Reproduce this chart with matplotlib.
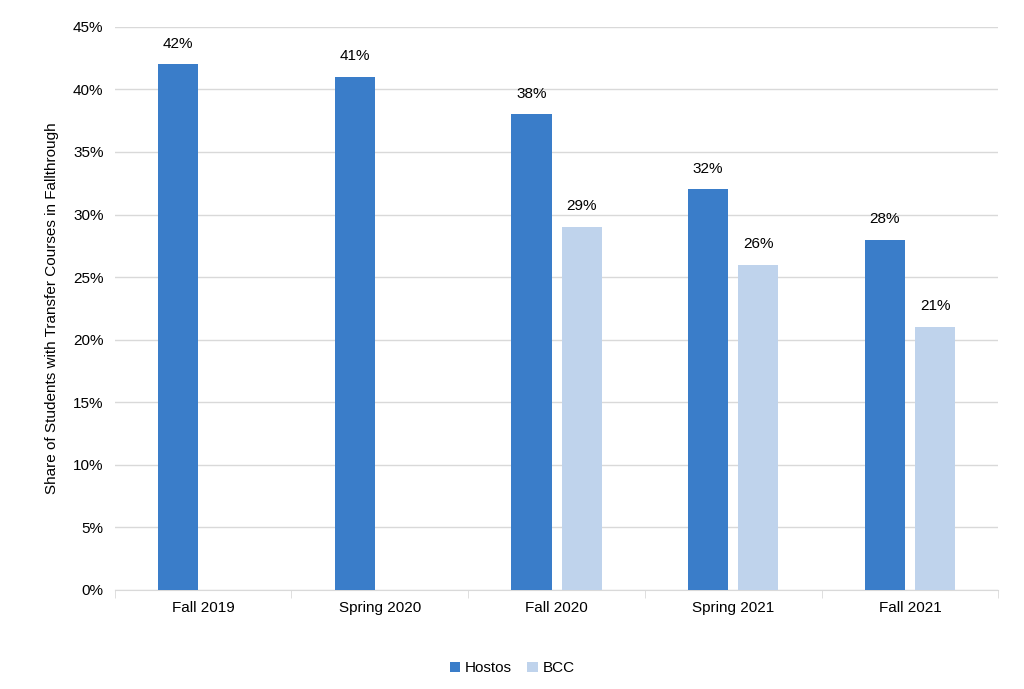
import matplotlib.pyplot as plt
import numpy as np

plt.rcParams['font.family'] = 'Liberation Sans'

terms = ['Fall 2019', 'Spring 2020', 'Fall 2020', 'Spring 2021', 'Fall 2021']
hostos = [42, 41, 38, 32, 28]
bcc = [None, None, 29, 26, 21]

fig = plt.figure(figsize=(10.24, 6.89), dpi=100)
ax = fig.add_axes([0.112, 0.144, 0.863, 0.817])

x = np.arange(len(terms))
w = 0.227
off = 0.142
for i in range(len(terms)):
    ax.bar(x[i] - off, hostos[i], w, color='#3A7DC9', zorder=3,
           label='Hostos' if i == 0 else None)
    ax.text(x[i] - off, hostos[i] + 1.1, f'{hostos[i]}%', ha='center', va='bottom', fontsize=11)
    if bcc[i] is not None:
        ax.bar(x[i] + off, bcc[i], w, color='#BFD3EC', zorder=3,
               label='BCC' if i == 2 else None)
        ax.text(x[i] + off, bcc[i] + 1.1, f'{bcc[i]}%', ha='center', va='bottom', fontsize=11)

ax.set_xlim(-0.5, len(terms) - 0.5)
ax.set_ylim(0, 45)
ax.set_yticks(range(0, 46, 5))
ax.set_yticklabels([f'{v}%' for v in range(0, 46, 5)], fontsize=11)
ax.yaxis.grid(True, color='#D9D9D9', linewidth=1, zorder=0)
ax.tick_params(axis='y', length=0, pad=8)

ax.set_xticks(x)
ax.set_xticklabels(terms, fontsize=11)
ax.tick_params(axis='x', length=0, pad=8)
ax.set_xticks(np.arange(-0.5, len(terms), 1), minor=True)
ax.tick_params(axis='x', which='minor', length=6, color='#D9D9D9', direction='out')

for s in ['top', 'right', 'left']:
    ax.spines[s].set_visible(False)
ax.spines['bottom'].set_color('#D9D9D9')

ax.set_ylabel('Share of Students with Transfer Courses in Fallthrough', fontsize=11, labelpad=10)

fig.legend(loc='lower center', bbox_to_anchor=(0.5, 0.0), ncol=2, frameon=False,
           fontsize=11, handlelength=0.7, handleheight=0.7, columnspacing=1.0, handletextpad=0.3)

fig.savefig('out.png', dpi=100)
